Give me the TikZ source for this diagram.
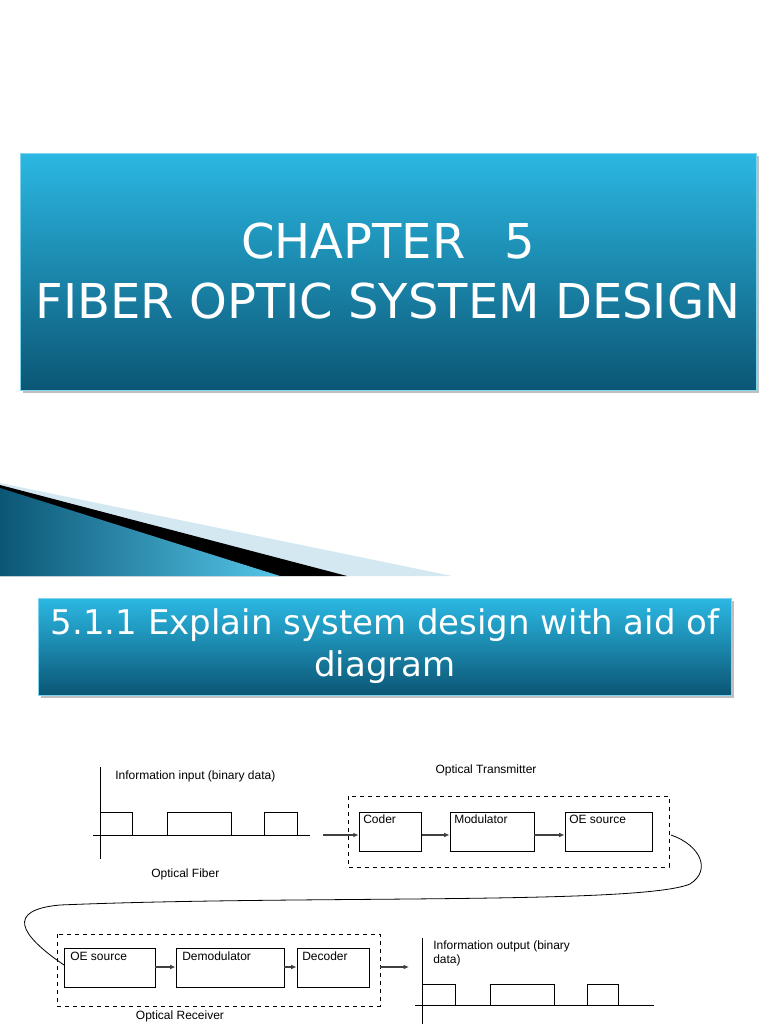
\documentclass[tikz,border=0pt]{standalone}
\usepackage{fontspec}
\setmainfont{DejaVu Sans}
\newfontfamily\diag{Liberation Sans}
\usetikzlibrary{arrows.meta,shadows}
\definecolor{topc}{HTML}{2BB8E3}
\definecolor{botc}{HTML}{0B5675}
\definecolor{lightw}{HTML}{D3E8F1}
\begin{document}
\begin{tikzpicture}[x=0.75pt,y=-0.75pt,
  titlebox/.style={top color=topc,bottom color=botc,draw=topc!60!white,line width=0.6pt,drop shadow={shadow xshift=2pt,shadow yshift=-2pt,opacity=0.5}},
  blk/.style={draw,line width=0.7pt,minimum height=29.25pt,inner sep=0pt},
  lbl/.style={font=\diag\fontsize{9}{10.5}\selectfont,inner sep=0pt,anchor=north west},
  dbox/.style={draw,dashed,line width=0.7pt},
  arr/.style={-{Latex[length=4pt,width=3.5pt]},line width=0.8pt,draw=black!75},
  sig/.style={line width=0.7pt}]
\useasboundingbox (0,0) rectangle (768,1024);
\clip (0,0) rectangle (768,1024);
% title box
\shade[titlebox] (20,153) rectangle (756,390);
\node[text=white,align=center,font=\fontsize{36}{45}\selectfont] (title) at (388,271) {CHAPTER\,\ \ 5\\FIBER OPTIC SYSTEM DESIGN};
% wedge
\fill[lightw] (0,483) -- (452,576) -- (0,576) -- cycle;
\fill[black] (0,485) -- (347,576) -- (0,576) -- cycle;
\shade[left color=botc,right color=topc!80!white] (0,488) -- (280,576) -- (0,576) -- cycle;
% subtitle
\shade[titlebox] (38,598) rectangle (731,695);
\node[text=white,align=center,font=\fontsize{25.5}{31}\selectfont] (sub) at (385,646) {5.1.1 Explain system design with aid of\\diagram};
% input signal
\draw[sig] (100,767) -- (100,859);
\draw[sig] (93,835) -- (310,835);
\draw[sig] (100,812) -- (132,812) -- (132,835);
\draw[sig] (167,835) -- (167,812) -- (231,812) -- (231,835);
\draw[sig] (264,835) -- (264,812) -- (297,812) -- (297,835);
\node[lbl] (inl) at (115,771) {Information input (binary data)};
\node[lbl,anchor=north] (otl) at (486,765) {Optical Transmitter};
\draw[dbox] (348,796) rectangle (669,867);
\node[blk,minimum width=47pt] (coder) at (390.5,831.5) {};
\node[blk,minimum width=63pt] (mod) at (492,831.5) {};
\node[blk,minimum width=65.25pt] (oe1) at (608.5,831.5) {};
\node[lbl] at (363,815) {Coder};
\node[lbl] at (454,815) {Modulator};
\node[lbl] at (569,815) {OE source};
\coordinate (inA) at (323,835);
\draw[arr] (inA) -- (coder.west|-inA);
\draw[arr] (coder.east|-inA) -- (mod.west|-inA);
\draw[arr] (mod.east|-inA) -- (oe1.west|-inA);
% fiber
\coordinate (f0) at (671,835);
\coordinate (f1) at (64,965);
\draw[line width=0.6pt] (f0) .. controls (700,845) and (712,870) .. (690,884)
  .. controls (640,905) and (300,895) .. (60,905)
  .. controls (5,910) and (20,935) .. (f1);
\node[lbl] (ofl) at (151,869) {Optical Fiber};
% receiver
\draw[dbox] (57,934) rectangle (380,1006);
\node[blk,minimum width=68.25pt] (oe2) at (109.5,968) {};
\node[blk,minimum width=81pt] (dem) at (230,968) {};
\node[blk,minimum width=54pt] (dec) at (333,968) {};
\node[lbl] at (70,952) {OE source};
\node[lbl] at (182,952) {Demodulator};
\node[lbl] at (302,952) {Decoder};
\coordinate (rA) at (0,967);
\draw[arr] (oe2.east|-rA) -- (dem.west|-rA);
\draw[arr] (dem.east|-rA) -- (dec.west|-rA);
\coordinate (outA) at (380,967);
\coordinate (outB) at (409,967);
\draw[arr] (outA) -- (outB);
\node[lbl,anchor=north] (orl) at (180,1011) {Optical Receiver};
% output signal
\draw[sig] (422,938) -- (422,1024);
\draw[sig] (415,1005) -- (654,1005);
\draw[sig] (422,984) -- (455,984) -- (455,1005);
\draw[sig] (490,1005) -- (490,984) -- (554,984) -- (554,1005);
\draw[sig] (587,1005) -- (587,984) -- (618,984) -- (618,1005);
\node[lbl,align=left] (outl) at (433,941) {Information output (binary\\data)};
\end{tikzpicture}
\end{document}
